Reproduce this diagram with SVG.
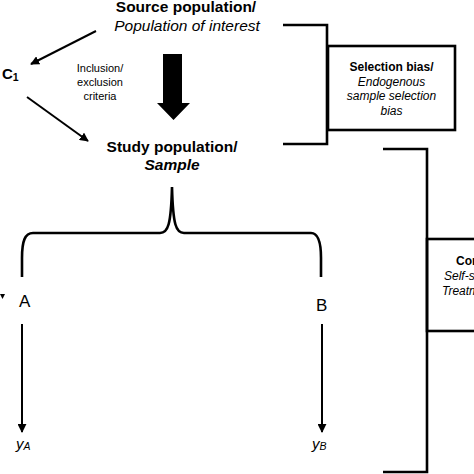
<svg xmlns="http://www.w3.org/2000/svg" width="474" height="474" viewBox="0 0 474 474">
<style>
text{font-family:"Liberation Sans",Arial,sans-serif;fill:#000}
.t{font-size:15.5px}
.b{font-weight:bold}
.i{font-style:italic}
.s{font-size:12px}
.c{text-anchor:middle}
.ln{fill:none;stroke:#000;stroke-width:2}
.br{fill:none;stroke:#000;stroke-width:2.6}
</style>
<defs>
<marker id="ah" viewBox="0 0 10 10" refX="9" refY="5" markerWidth="9" markerHeight="9" markerUnits="userSpaceOnUse" orient="auto">
<path d="M0,0 L10,5 L0,10 z" fill="#000"/>
</marker>
</defs>
<rect width="474" height="474" fill="#fff"/>
<g id="source">
<text class="t b c" x="186" y="12">Source population/</text>
<text class="t i c" x="187" y="31">Population of interest</text>
</g>
<g id="c1">
<text class="b" x="2" y="79" font-size="15">C<tspan font-size="10.5" dy="2">1</tspan></text>
</g>
<g id="criteria">
<text class="c" font-size="11" x="100" y="72">Inclusion/</text>
<text class="c" font-size="11" x="100" y="86">exclusion</text>
<text class="c" font-size="11" x="100" y="100">criteria</text>
</g>
<g id="study">
<text class="t b c" x="172" y="152">Study population/</text>
<text class="t b i c" x="172" y="170">Sample</text>
</g>
<g id="groupA">
<text x="19" y="307" font-size="17">A</text>
</g>
<g id="groupB">
<text x="316" y="311" font-size="17">B</text>
</g>
<g id="yA">
<text class="i" x="16" y="449" font-size="15">y<tspan font-size="10.5" dy="1">A</tspan></text>
</g>
<g id="yB">
<text class="i" x="312" y="449" font-size="15">y<tspan font-size="10.5" dy="1">B</tspan></text>
</g>
<g id="selection-bias">
<rect class="br" x="328" y="46" width="127" height="84"/>
<text class="s b c" x="391.5" y="71">Selection bias/</text>
<text class="s i c" x="391.5" y="85.5">Endogenous</text>
<text class="s i c" x="391.5" y="100">sample selection</text>
<text class="s i c" x="391.5" y="114.5">bias</text>
</g>
<g id="confounding">
<rect class="br" x="427" y="239" width="127" height="92"/>
<text class="s b" x="456" y="265">Confounding/</text>
<text class="s i" x="444" y="280">Self-selection</text>
<text class="s i" x="442" y="295">Treatment</text>
</g>
<g id="connectors">
<line class="ln" x1="96" y1="31" x2="31" y2="64" marker-end="url(#ah)"/>
<line class="ln" x1="27" y1="97" x2="88" y2="141" marker-end="url(#ah)"/>
<polygon points="163,54 182,54 182,103 190,103 173.5,120 157,103 163,103" fill="#000"/>
<path class="br" d="M22,277 L22,258 C22,241 25,233 33,233 L160,233 C168,233 171,225 172,187 C173,225 176,233 184,233 L311,233 C318,233 321,241 321,258 L321,277"/>
<line class="ln" x1="22" y1="324" x2="22" y2="432" marker-end="url(#ah)"/>
<line class="ln" x1="322" y1="324" x2="322" y2="432" marker-end="url(#ah)"/>
<polygon points="0,294 5,294 2.5,299" fill="#000"/>
<path class="br" d="M283,25 L327,25 L327,144 L283,144"/>
<path class="br" d="M383,149 L427,149 L427,472 L383,472"/>
</g>
</svg>
